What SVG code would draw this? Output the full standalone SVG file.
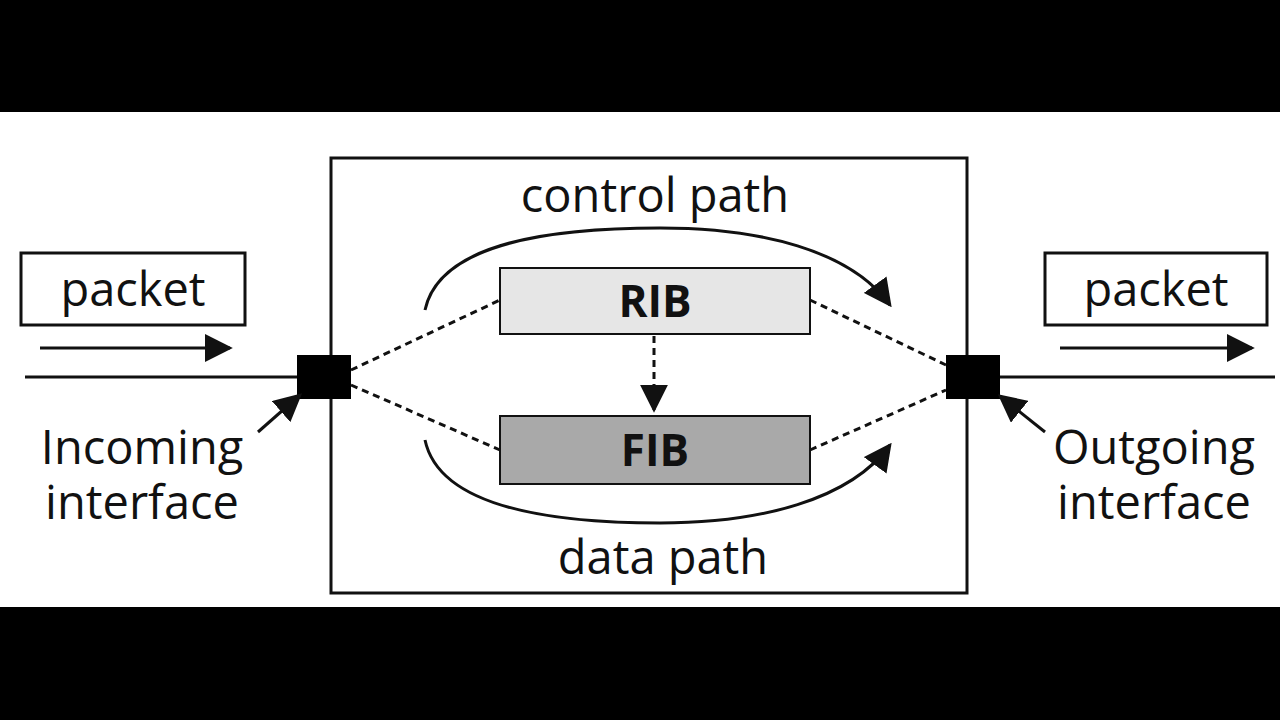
<svg xmlns="http://www.w3.org/2000/svg" width="1280" height="720" viewBox="0 0 1280 720">
<defs>
<style>
text{font-family:"Open Sans","Liberation Sans",sans-serif;fill:#111;text-anchor:middle}
.t{font-size:47px}
.b{font-size:44px;font-weight:bold}
.ln{stroke:#111;stroke-width:3;fill:none}
.d{stroke:#111;stroke-width:3;fill:none;stroke-dasharray:7 5}
</style>
<marker id="ah2" viewBox="0 0 10 10" refX="9" refY="5" markerWidth="28" markerHeight="28" markerUnits="userSpaceOnUse" orient="auto"><path d="M0,0L10,5L0,10z" fill="#111"/></marker>
</defs>
<rect width="1280" height="720" fill="#000"/>
<rect x="0" y="112" width="1280" height="495" fill="#fff"/>
<g id="router"><rect x="331" y="158" width="636" height="435" class="ln"/></g>
<g id="packet-in"><rect x="21" y="253" width="224" height="72" class="ln"/><text x="133" y="306" class="t">packet</text></g>
<g id="packet-out"><rect x="1045" y="253" width="222" height="72" class="ln"/><text x="1156" y="306" class="t">packet</text></g>
<g id="rib"><rect x="500" y="268" width="310" height="66" fill="#e6e6e6" stroke="#111" stroke-width="2"/><text x="655" y="317" class="b">RIB</text></g>
<g id="fib"><rect x="500" y="416" width="310" height="68" fill="#a9a9a9" stroke="#111" stroke-width="2"/><text x="655" y="466" class="b">FIB</text></g>
<g id="in-if"><rect x="297" y="355" width="54" height="44" fill="#000"/></g>
<g id="out-if"><rect x="946" y="355" width="54" height="44" fill="#000"/></g>
<g id="labels">
<text x="655" y="212" class="t">control path</text>
<text x="663" y="574" class="t">data path</text>
<text x="142" y="464" class="t">Incoming</text>
<text x="142" y="519" class="t">interface</text>
<text x="1154" y="464" class="t">Outgoing</text>
<text x="1154" y="519" class="t">interface</text>
</g>
<g id="connectors">
<line x1="25" y1="377" x2="297" y2="377" class="ln"/>
<line x1="1000" y1="377" x2="1275" y2="377" class="ln"/>
<line x1="40" y1="348" x2="230" y2="348" class="ln" marker-end="url(#ah2)"/>
<line x1="1060" y1="348" x2="1252" y2="348" class="ln" marker-end="url(#ah2)"/>
<line x1="258" y1="432" x2="300" y2="395" class="ln" marker-end="url(#ah2)"/>
<line x1="1045" y1="432" x2="1000" y2="396" class="ln" marker-end="url(#ah2)"/>
<line x1="351" y1="370" x2="500" y2="300" class="d"/>
<line x1="351" y1="385" x2="500" y2="450" class="d"/>
<line x1="810" y1="300" x2="946" y2="365" class="d"/>
<line x1="810" y1="450" x2="946" y2="390" class="d"/>
<line x1="654" y1="336" x2="654" y2="410" class="d" stroke-width="5" marker-end="url(#ah2)"/>
<path d="M425,310 C440,240 560,228 660,228 C760,228 850,250 890,305" class="ln" marker-end="url(#ah2)"/>
<path d="M425,440 C440,510 560,523 660,523 C760,523 850,500 890,445" class="ln" marker-end="url(#ah2)"/>
</g>
</svg>
